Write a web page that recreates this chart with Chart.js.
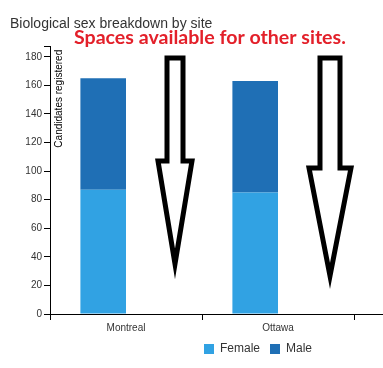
<!DOCTYPE html>
<html>
<head>
<meta charset="utf-8">
<script src="https://cdn.jsdelivr.net/npm/chart.js@4.4.1/dist/chart.umd.min.js"></script>
<style>
html, body { margin: 0; padding: 0; background: #fff; overflow: hidden; }
#wrap { width: 515px; height: 368px; }
</style>
</head>
<body>
<div id="wrap"><canvas id="sexChart" width="515" height="368"></canvas></div>
<script>
// data
const sites = ['Montreal', 'Ottawa', ''];
const femaleCounts = [87, 85, null];
const maleCounts = [78, 78, null];
const yTicks = [0, 20, 40, 60, 80, 100, 120, 140, 160, 180];
const yMax = 187;

const FONT = '"Liberation Sans", Arial, sans-serif';

// hollow arrows + notes drawn on top of the chart
const notes = {
    id: 'notes',
    afterDraw(chart) {
        const ctx = chart.ctx;
        ctx.save();

        // y axis title, inside the plot
        ctx.save();
        ctx.translate(chart.chartArea.left + 9, chart.chartArea.top + 3);
        ctx.rotate(-Math.PI / 2);
        ctx.font = '10px ' + FONT;
        ctx.fillStyle = '#000';
        ctx.textAlign = 'right';
        ctx.textBaseline = 'middle';
        ctx.fillText('Candidates registered', 0, 0);
        ctx.restore();

        // red note
        const msg = 'Spaces available for other sites.';
        let size = 18;
        ctx.font = 'bold ' + size + 'px Lato, "Open Sans", sans-serif';
        size = size * 272 / ctx.measureText(msg).width;
        ctx.font = 'bold ' + size.toFixed(2) + 'px Lato, "Open Sans", sans-serif';
        ctx.fillStyle = '#e3202a';
        ctx.textAlign = 'left';
        ctx.textBaseline = 'alphabetic';
        ctx.fillText(msg, 74, 44);

        const arrows = [
            {xl: 167, xr: 183, yt: 58, yh: 161, hl: 158, hr: 192, tx: 175, ty: 264},
            {xl: 320, xr: 340, yt: 58, yh: 168, hl: 309, hr: 351, tx: 330, ty: 276}
        ];
        ctx.lineWidth = 5;
        ctx.lineJoin = 'miter';
        ctx.strokeStyle = '#000';
        ctx.fillStyle = '#fff';
        arrows.forEach(a => {
            ctx.beginPath();
            ctx.moveTo(a.xl, a.yh);
            ctx.lineTo(a.xl, a.yt);
            ctx.lineTo(a.xr, a.yt);
            ctx.lineTo(a.xr, a.yh);
            ctx.lineTo(a.hr, a.yh);
            ctx.lineTo(a.tx, a.ty);
            ctx.lineTo(a.hl, a.yh);
            ctx.closePath();
            ctx.fill();
            ctx.stroke();
        });
        ctx.restore();
    }
};

new Chart(document.getElementById('sexChart'), {
    type: 'bar',
    data: {
        labels: sites,
        datasets: [
            {label: 'Female', data: femaleCounts, backgroundColor: '#31a2e3', stack: 'site'},
            {label: 'Male', data: maleCounts, backgroundColor: '#1f6fb5', stack: 'site'},
            {label: '', data: sites.map(() => null), stack: 'free'}
        ]
    },
    options: {
        responsive: false,
        animation: false,
        events: [],
        barPercentage: 1,
        categoryPercentage: 0.6,
        layout: {padding: {left: 10, right: 9, top: 0, bottom: 3}},
        plugins: {
            title: {
                display: true,
                text: 'Biological sex breakdown by site',
                align: 'start',
                color: '#333',
                font: {family: FONT, size: 14, weight: 'normal'},
                padding: {top: 16, bottom: 14}
            },
            legend: {
                position: 'bottom',
                labels: {
                    boxWidth: 10,
                    boxHeight: 10,
                    padding: 10,
                    color: '#333',
                    font: {family: FONT, size: 12},
                    filter: item => item.datasetIndex < 2
                }
            },
            tooltip: {enabled: false}
        },
        scales: {
            x: {
                stacked: true,
                grid: {offset: true, drawOnChartArea: false, tickLength: 6, color: '#000'},
                border: {color: '#000'},
                ticks: {color: '#333', font: {family: FONT, size: 10}, padding: 2, maxRotation: 0},
                afterFit: s => { s.height = 19; }
            },
            y: {
                stacked: true,
                min: 0,
                max: yMax,
                afterBuildTicks: s => { s.ticks = yTicks.concat([yMax]).map(v => ({value: v})); },
                grid: {drawOnChartArea: false, tickLength: 6, color: '#000'},
                border: {color: '#000'},
                ticks: {
                    color: '#333',
                    font: {family: FONT, size: 10},
                    padding: 2,
                    callback: v => yTicks.includes(v) ? v : ''
                },
                afterFit: s => { s.width = 40; }
            }
        }
    },
    plugins: [notes]
});
</script>
</body>
</html>
